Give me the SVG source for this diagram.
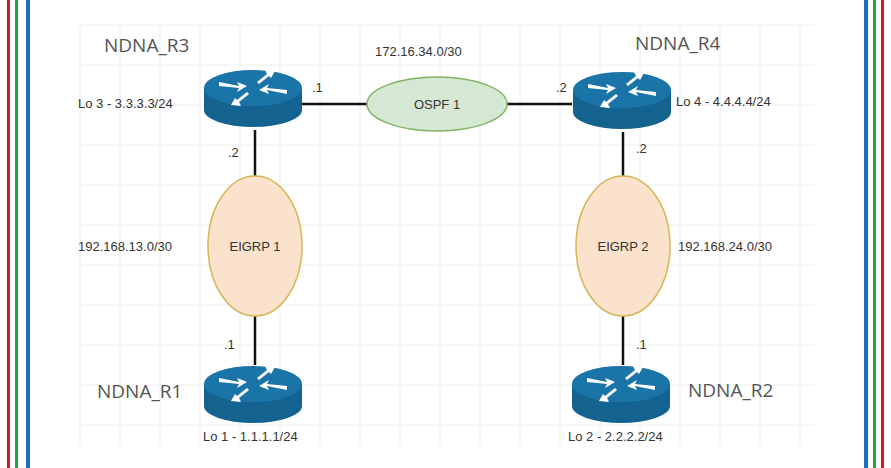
<svg xmlns="http://www.w3.org/2000/svg" width="891" height="468" viewBox="0 0 891 468">
<defs>
<style>
.bl{font-family:"Open Sans","Liberation Sans",sans-serif;font-size:19px;fill:#555}
.sm{font-family:"Liberation Sans",Arial,sans-serif;font-size:13px;fill:#333}
.ln{stroke:#111;stroke-width:2.5;fill:none}
.grid{stroke:#eee;stroke-width:1}
.arr{fill:#fff}
</style>
<g id="router">
<path d="M-49,-8 L-49,14 A49,17 0 0 0 49,14 L49,-8 Z" fill="#14628f"/>
<ellipse cx="0" cy="-8" rx="49" ry="18" fill="#1a74a8"/>
<path class="arr" d="M-34,-14 L-14,-10 L-16,-14 L-6,-10 L-16,-4 L-14,-8 L-34,-10Z"/>
<path class="arr" d="M34,-2 L14,-6 L16,-2 L6,-6 L16,-12 L14,-8 L34,-6Z"/>
<path class="arr" d="M4,-14 L14,-22 L12,-26 L22,-25 L18,-18 L16,-20 L6,-12Z"/>
<path class="arr" d="M-4,-2 L-14,6 L-12,10 L-22,9 L-18,2 L-16,4 L-6,-4Z"/>
</g>
</defs>
<rect width="891" height="468" fill="#fff"/>
<g id="border">
<rect x="7" y="0" width="3" height="468" fill="#d7191f"/>
<rect x="15" y="0" width="3" height="468" fill="#1aa54a"/>
<rect x="26" y="0" width="4" height="468" fill="#1a6fc0"/>
<rect x="864" y="0" width="4" height="468" fill="#1a6fc0"/>
<rect x="873" y="0" width="3" height="468" fill="#1aa54a"/>
<rect x="881" y="0" width="3" height="468" fill="#d7191f"/>
</g>
<g id="grid">
<path class="grid" d="M80,25 H815 M80,65 H815 M80,105 H815 M80,145 H815 M80,185 H815 M80,225 H815 M80,265 H815 M80,305 H815 M80,345 H815 M80,385 H815 M80,425 H815 M80,25 V445 M120,25 V445 M160,25 V445 M200,25 V445 M240,25 V445 M280,25 V445 M320,25 V445 M360,25 V445 M400,25 V445 M440,25 V445 M480,25 V445 M520,25 V445 M560,25 V445 M600,25 V445 M640,25 V445 M680,25 V445 M720,25 V445 M760,25 V445 M800,25 V445"/>
</g>
<g id="connectors">
<line class="ln" x1="302" y1="104" x2="367" y2="104"/>
<line class="ln" x1="507" y1="104" x2="572" y2="104"/>
<line class="ln" x1="255" y1="130" x2="255" y2="176"/>
<line class="ln" x1="255" y1="316" x2="255" y2="365"/>
<line class="ln" x1="623" y1="132" x2="623" y2="176"/>
<line class="ln" x1="623" y1="316" x2="623" y2="365"/>
</g>
<g id="OSPF1"><ellipse cx="437" cy="104" rx="70" ry="27" fill="#d5e8d4" stroke="#82b366" stroke-width="1.5"/><text class="sm" x="437" y="109" text-anchor="middle">OSPF 1</text></g>
<g id="EIGRP1"><ellipse cx="255" cy="246" rx="47" ry="70" fill="#fbe2cc" stroke="#d6b656" stroke-width="1.5"/><text class="sm" x="255" y="251" text-anchor="middle">EIGRP 1</text></g>
<g id="EIGRP2"><ellipse cx="623" cy="246" rx="47" ry="70" fill="#fbe2cc" stroke="#d6b656" stroke-width="1.5"/><text class="sm" x="623" y="251" text-anchor="middle">EIGRP 2</text></g>
<g id="R3"><use href="#router" x="253" y="96"/><text class="bl" x="104" y="52">NDNA_R3</text><text class="sm" x="78" y="108">Lo 3 - 3.3.3.3/24</text></g>
<g id="R4"><use href="#router" x="622" y="98"/><text class="bl" x="635" y="50">NDNA_R4</text><text class="sm" x="676" y="106">Lo 4 - 4.4.4.4/24</text></g>
<g id="R1"><use href="#router" x="253" y="392"/><text class="bl" x="97" y="398">NDNA_R1</text><text class="sm" x="203" y="441">Lo 1 - 1.1.1.1/24</text></g>
<g id="R2"><use href="#router" x="621" y="392"/><text class="bl" x="688" y="397">NDNA_R2</text><text class="sm" x="568" y="441">Lo 2 - 2.2.2.2/24</text></g>
<g id="labels">
<text class="sm" x="375" y="56">172.16.34.0/30</text>
<text class="sm" x="312" y="92">.1</text>
<text class="sm" x="556" y="92">.2</text>
<text class="sm" x="228" y="157">.2</text>
<text class="sm" x="636" y="153">.2</text>
<text class="sm" x="78" y="251">192.168.13.0/30</text>
<text class="sm" x="678" y="251">192.168.24.0/30</text>
<text class="sm" x="224" y="349">.1</text>
<text class="sm" x="636" y="349">.1</text>
</g>
</svg>
